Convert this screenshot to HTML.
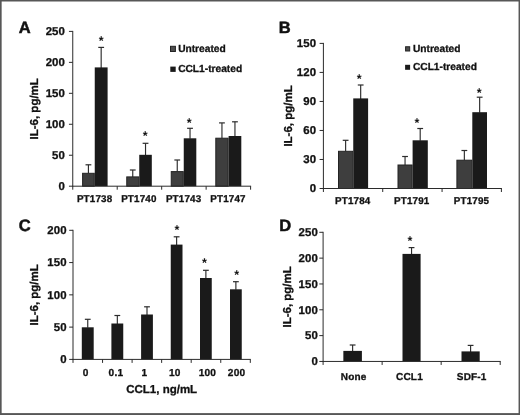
<!DOCTYPE html>
<html lang="en">
<head>
<meta charset="utf-8">
<title>IL-6 production figure</title>
<style>
html,body{margin:0;padding:0;background:#fff;}
body{width:520px;height:415px;overflow:hidden;position:relative;font-family:"Liberation Sans",Arial,Helvetica,sans-serif;}
svg{position:absolute;left:0;top:0;display:block;}
</style>
</head>
<body>
<svg width="520" height="415" viewBox="0 0 520 415" font-family="'Liberation Sans', Arial, Helvetica, sans-serif" font-weight="bold" fill="#111" stroke="none" text-rendering="geometricPrecision">
<line x1="88.42" y1="164.8" x2="88.42" y2="173.3" stroke="#2c2c2c" stroke-width="1.15"/>
<line x1="85.52" y1="164.8" x2="91.33" y2="164.8" stroke="#2c2c2c" stroke-width="1.2"/>
<rect x="82.6" y="173.3" width="11.65" height="12.9" fill="#3e3e3e" stroke="#232323" stroke-width="1"/>
<line x1="101.17" y1="47.4" x2="101.17" y2="67.9" stroke="#2c2c2c" stroke-width="1.15"/>
<line x1="98.27" y1="47.4" x2="104.08" y2="47.4" stroke="#2c2c2c" stroke-width="1.2"/>
<rect x="94.75" y="67.4" width="12.85" height="118.8" fill="#1a1a1a"/>
<line x1="132.75" y1="170" x2="132.75" y2="176.9" stroke="#2c2c2c" stroke-width="1.15"/>
<line x1="129.85" y1="170" x2="135.65" y2="170" stroke="#2c2c2c" stroke-width="1.2"/>
<rect x="126.75" y="176.9" width="12" height="9.3" fill="#3e3e3e" stroke="#232323" stroke-width="1"/>
<line x1="145.53" y1="143.3" x2="145.53" y2="155.3" stroke="#2c2c2c" stroke-width="1.15"/>
<line x1="142.62" y1="143.3" x2="148.43" y2="143.3" stroke="#2c2c2c" stroke-width="1.2"/>
<rect x="139.25" y="154.8" width="12.55" height="31.4" fill="#1a1a1a"/>
<line x1="177.25" y1="160" x2="177.25" y2="171.6" stroke="#2c2c2c" stroke-width="1.15"/>
<line x1="174.35" y1="160" x2="180.15" y2="160" stroke="#2c2c2c" stroke-width="1.2"/>
<rect x="171.25" y="171.6" width="12" height="14.6" fill="#3e3e3e" stroke="#232323" stroke-width="1"/>
<line x1="190.03" y1="128.3" x2="190.03" y2="138.8" stroke="#2c2c2c" stroke-width="1.15"/>
<line x1="187.12" y1="128.3" x2="192.93" y2="128.3" stroke="#2c2c2c" stroke-width="1.2"/>
<rect x="183.75" y="138.3" width="12.55" height="47.9" fill="#1a1a1a"/>
<line x1="221.95" y1="122.9" x2="221.95" y2="138.2" stroke="#2c2c2c" stroke-width="1.15"/>
<line x1="219.05" y1="122.9" x2="224.85" y2="122.9" stroke="#2c2c2c" stroke-width="1.2"/>
<rect x="215.8" y="138.2" width="12.3" height="48" fill="#3e3e3e" stroke="#232323" stroke-width="1"/>
<line x1="234.95" y1="121.8" x2="234.95" y2="136.5" stroke="#2c2c2c" stroke-width="1.15"/>
<line x1="232.05" y1="121.8" x2="237.85" y2="121.8" stroke="#2c2c2c" stroke-width="1.2"/>
<rect x="228.6" y="136" width="12.7" height="50.2" fill="#1a1a1a"/>
<line x1="72.75" y1="30.9" x2="72.75" y2="186.7" stroke="#2b2b2b" stroke-width="1.0"/>
<line x1="72.25" y1="186.2" x2="251.1" y2="186.2" stroke="#2b2b2b" stroke-width="1.0"/>
<line x1="68.95" y1="186.2" x2="72.75" y2="186.2" stroke="#2b2b2b" stroke-width="1.0"/>
<text x="58.61" y="189.95" font-size="11.4" letter-spacing="0.15" stroke="#111" stroke-width="0.3">0</text>
<line x1="68.95" y1="155.24" x2="72.75" y2="155.24" stroke="#2b2b2b" stroke-width="1.0"/>
<text x="52.12" y="158.99" font-size="11.4" letter-spacing="0.15" stroke="#111" stroke-width="0.3">50</text>
<line x1="68.95" y1="124.28" x2="72.75" y2="124.28" stroke="#2b2b2b" stroke-width="1.0"/>
<text x="45.63" y="128.03" font-size="11.4" letter-spacing="0.15" stroke="#111" stroke-width="0.3">100</text>
<line x1="68.95" y1="93.32" x2="72.75" y2="93.32" stroke="#2b2b2b" stroke-width="1.0"/>
<text x="45.63" y="97.07" font-size="11.4" letter-spacing="0.15" stroke="#111" stroke-width="0.3">150</text>
<line x1="68.95" y1="62.36" x2="72.75" y2="62.36" stroke="#2b2b2b" stroke-width="1.0"/>
<text x="45.63" y="66.11" font-size="11.4" letter-spacing="0.15" stroke="#111" stroke-width="0.3">200</text>
<line x1="68.95" y1="31.4" x2="72.75" y2="31.4" stroke="#2b2b2b" stroke-width="1.0"/>
<text x="45.63" y="35.15" font-size="11.4" letter-spacing="0.15" stroke="#111" stroke-width="0.3">250</text>
<line x1="72.75" y1="186.2" x2="72.75" y2="189.7" stroke="#2b2b2b" stroke-width="1.0"/>
<line x1="117.21" y1="186.2" x2="117.21" y2="189.7" stroke="#2b2b2b" stroke-width="1.0"/>
<line x1="161.68" y1="186.2" x2="161.68" y2="189.7" stroke="#2b2b2b" stroke-width="1.0"/>
<line x1="206.14" y1="186.2" x2="206.14" y2="189.7" stroke="#2b2b2b" stroke-width="1.0"/>
<line x1="250.6" y1="186.2" x2="250.6" y2="189.7" stroke="#2b2b2b" stroke-width="1.0"/>
<text x="76.89" y="201.9" font-size="9.8" letter-spacing="0.18" stroke="#111" stroke-width="0.3">PT1738</text>
<text x="121.14" y="201.9" font-size="9.8" letter-spacing="0.18" stroke="#111" stroke-width="0.3">PT1740</text>
<text x="165.89" y="201.9" font-size="9.8" letter-spacing="0.18" stroke="#111" stroke-width="0.3">PT1743</text>
<text x="210.29" y="201.9" font-size="9.8" letter-spacing="0.18" stroke="#111" stroke-width="0.3">PT1747</text>
<text x="37.8" y="139.46" font-size="11.5" stroke="#111" stroke-width="0.3" transform="rotate(-90 37.8 139.46)">IL-6, pg/mL</text>
<text x="18.75" y="33.4" font-size="16.5" stroke="#111" stroke-width="0.5">A</text>
<text x="98.85" y="45.13" font-size="12.6">*</text>
<text x="142.65" y="139.73" font-size="12.6">*</text>
<text x="186.75" y="126.93" font-size="12.6">*</text>
<rect x="170.5" y="46.3" width="4.9" height="5.2" fill="#4e4e4e" stroke="#232323" stroke-width="1"/>
<text x="178.15" y="52" font-size="10.2" stroke="#111" stroke-width="0.3">Untreated</text>
<rect x="170.3" y="66.6" width="5.4" height="5.3" fill="#1a1a1a"/>
<text x="178.15" y="72.4" font-size="10.2" stroke="#111" stroke-width="0.3">CCL1-treated</text>
<line x1="345.62" y1="140.3" x2="345.62" y2="151.3" stroke="#2c2c2c" stroke-width="1.15"/>
<line x1="342.73" y1="140.3" x2="348.52" y2="140.3" stroke="#2c2c2c" stroke-width="1.2"/>
<rect x="338.5" y="151.3" width="14.25" height="37.2" fill="#3e3e3e" stroke="#232323" stroke-width="1"/>
<line x1="360.68" y1="85" x2="360.68" y2="98.9" stroke="#2c2c2c" stroke-width="1.15"/>
<line x1="357.78" y1="85" x2="363.57" y2="85" stroke="#2c2c2c" stroke-width="1.2"/>
<rect x="353.25" y="98.4" width="14.85" height="90.1" fill="#1a1a1a"/>
<line x1="405.05" y1="156.5" x2="405.05" y2="165" stroke="#2c2c2c" stroke-width="1.15"/>
<line x1="402.15" y1="156.5" x2="407.95" y2="156.5" stroke="#2c2c2c" stroke-width="1.2"/>
<rect x="398" y="165" width="14.1" height="23.5" fill="#3e3e3e" stroke="#232323" stroke-width="1"/>
<line x1="420.2" y1="128.5" x2="420.2" y2="140.8" stroke="#2c2c2c" stroke-width="1.15"/>
<line x1="417.3" y1="128.5" x2="423.1" y2="128.5" stroke="#2c2c2c" stroke-width="1.2"/>
<rect x="412.6" y="140.3" width="15.2" height="48.2" fill="#1a1a1a"/>
<line x1="464.35" y1="150.5" x2="464.35" y2="160.2" stroke="#2c2c2c" stroke-width="1.15"/>
<line x1="461.45" y1="150.5" x2="467.25" y2="150.5" stroke="#2c2c2c" stroke-width="1.2"/>
<rect x="456.9" y="160.2" width="14.9" height="28.3" fill="#3e3e3e" stroke="#232323" stroke-width="1"/>
<line x1="479.65" y1="97.2" x2="479.65" y2="112.7" stroke="#2c2c2c" stroke-width="1.15"/>
<line x1="476.75" y1="97.2" x2="482.55" y2="97.2" stroke="#2c2c2c" stroke-width="1.2"/>
<rect x="472.3" y="112.2" width="14.7" height="76.3" fill="#1a1a1a"/>
<line x1="323.4" y1="42.9" x2="323.4" y2="189" stroke="#2b2b2b" stroke-width="1.0"/>
<line x1="322.9" y1="188.5" x2="501.9" y2="188.5" stroke="#2b2b2b" stroke-width="1.0"/>
<line x1="319.6" y1="188.5" x2="323.4" y2="188.5" stroke="#2b2b2b" stroke-width="1.0"/>
<text x="309.71" y="192.25" font-size="11.4" letter-spacing="0.15" stroke="#111" stroke-width="0.3">0</text>
<line x1="319.6" y1="159.48" x2="323.4" y2="159.48" stroke="#2b2b2b" stroke-width="1.0"/>
<text x="303.22" y="163.23" font-size="11.4" letter-spacing="0.15" stroke="#111" stroke-width="0.3">30</text>
<line x1="319.6" y1="130.46" x2="323.4" y2="130.46" stroke="#2b2b2b" stroke-width="1.0"/>
<text x="303.22" y="134.21" font-size="11.4" letter-spacing="0.15" stroke="#111" stroke-width="0.3">60</text>
<line x1="319.6" y1="101.44" x2="323.4" y2="101.44" stroke="#2b2b2b" stroke-width="1.0"/>
<text x="303.22" y="105.19" font-size="11.4" letter-spacing="0.15" stroke="#111" stroke-width="0.3">90</text>
<line x1="319.6" y1="72.42" x2="323.4" y2="72.42" stroke="#2b2b2b" stroke-width="1.0"/>
<text x="296.73" y="76.17" font-size="11.4" letter-spacing="0.15" stroke="#111" stroke-width="0.3">120</text>
<line x1="319.6" y1="43.4" x2="323.4" y2="43.4" stroke="#2b2b2b" stroke-width="1.0"/>
<text x="296.73" y="47.15" font-size="11.4" letter-spacing="0.15" stroke="#111" stroke-width="0.3">150</text>
<line x1="323.4" y1="188.5" x2="323.4" y2="192" stroke="#2b2b2b" stroke-width="1.0"/>
<line x1="382.73" y1="188.5" x2="382.73" y2="192" stroke="#2b2b2b" stroke-width="1.0"/>
<line x1="442.07" y1="188.5" x2="442.07" y2="192" stroke="#2b2b2b" stroke-width="1.0"/>
<line x1="501.4" y1="188.5" x2="501.4" y2="192" stroke="#2b2b2b" stroke-width="1.0"/>
<text x="335.09" y="204.3" font-size="9.8" letter-spacing="0.18" stroke="#111" stroke-width="0.3">PT1784</text>
<text x="394.09" y="204.3" font-size="9.8" letter-spacing="0.18" stroke="#111" stroke-width="0.3">PT1791</text>
<text x="453.79" y="204.3" font-size="9.8" letter-spacing="0.18" stroke="#111" stroke-width="0.3">PT1795</text>
<text x="291.6" y="146.61" font-size="11.5" stroke="#111" stroke-width="0.3" transform="rotate(-90 291.6 146.61)">IL-6, pg/mL</text>
<text x="278.65" y="32.8" font-size="16.5" stroke="#111" stroke-width="0.5">B</text>
<text x="356.75" y="82.73" font-size="12.6">*</text>
<text x="414.45" y="127.03" font-size="12.6">*</text>
<text x="476.85" y="97.23" font-size="12.6">*</text>
<rect x="405.6" y="46.75" width="4.1" height="4.25" fill="#4e4e4e" stroke="#232323" stroke-width="1"/>
<text x="412.95" y="52" font-size="10.2" stroke="#111" stroke-width="0.3">Untreated</text>
<rect x="405.1" y="64.8" width="5" height="5" fill="#1a1a1a"/>
<text x="412.95" y="70.15" font-size="10.2" stroke="#111" stroke-width="0.3">CCL1-treated</text>
<line x1="87.75" y1="319.3" x2="87.75" y2="327.8" stroke="#2c2c2c" stroke-width="1.15"/>
<line x1="84.85" y1="319.3" x2="90.65" y2="319.3" stroke="#2c2c2c" stroke-width="1.2"/>
<rect x="81.8" y="327.3" width="11.9" height="32.1" fill="#1a1a1a"/>
<line x1="117.33" y1="315.5" x2="117.33" y2="324" stroke="#2c2c2c" stroke-width="1.15"/>
<line x1="114.42" y1="315.5" x2="120.23" y2="315.5" stroke="#2c2c2c" stroke-width="1.2"/>
<rect x="111.4" y="323.5" width="11.85" height="35.9" fill="#1a1a1a"/>
<line x1="147" y1="306.8" x2="147" y2="315" stroke="#2c2c2c" stroke-width="1.15"/>
<line x1="144.1" y1="306.8" x2="149.9" y2="306.8" stroke="#2c2c2c" stroke-width="1.2"/>
<rect x="141.1" y="314.5" width="11.8" height="44.9" fill="#1a1a1a"/>
<line x1="176.62" y1="236.8" x2="176.62" y2="245.1" stroke="#2c2c2c" stroke-width="1.15"/>
<line x1="173.72" y1="236.8" x2="179.53" y2="236.8" stroke="#2c2c2c" stroke-width="1.2"/>
<rect x="170.75" y="244.6" width="11.75" height="114.8" fill="#1a1a1a"/>
<line x1="205.88" y1="270.3" x2="205.88" y2="278.5" stroke="#2c2c2c" stroke-width="1.15"/>
<line x1="202.97" y1="270.3" x2="208.78" y2="270.3" stroke="#2c2c2c" stroke-width="1.2"/>
<rect x="200" y="278" width="11.75" height="81.4" fill="#1a1a1a"/>
<line x1="235.88" y1="281.7" x2="235.88" y2="289.8" stroke="#2c2c2c" stroke-width="1.15"/>
<line x1="232.97" y1="281.7" x2="238.78" y2="281.7" stroke="#2c2c2c" stroke-width="1.2"/>
<rect x="230" y="289.3" width="11.75" height="70.1" fill="#1a1a1a"/>
<line x1="73" y1="229.8" x2="73" y2="359.9" stroke="#2b2b2b" stroke-width="1.0"/>
<line x1="72.5" y1="359.4" x2="250.8" y2="359.4" stroke="#2b2b2b" stroke-width="1.0"/>
<line x1="69.2" y1="359.4" x2="73" y2="359.4" stroke="#2b2b2b" stroke-width="1.0"/>
<text x="60.21" y="363.15" font-size="11.4" letter-spacing="0.15" stroke="#111" stroke-width="0.3">0</text>
<line x1="69.2" y1="327.12" x2="73" y2="327.12" stroke="#2b2b2b" stroke-width="1.0"/>
<text x="53.72" y="330.88" font-size="11.4" letter-spacing="0.15" stroke="#111" stroke-width="0.3">50</text>
<line x1="69.2" y1="294.85" x2="73" y2="294.85" stroke="#2b2b2b" stroke-width="1.0"/>
<text x="47.23" y="298.6" font-size="11.4" letter-spacing="0.15" stroke="#111" stroke-width="0.3">100</text>
<line x1="69.2" y1="262.57" x2="73" y2="262.57" stroke="#2b2b2b" stroke-width="1.0"/>
<text x="47.23" y="266.32" font-size="11.4" letter-spacing="0.15" stroke="#111" stroke-width="0.3">150</text>
<line x1="69.2" y1="230.3" x2="73" y2="230.3" stroke="#2b2b2b" stroke-width="1.0"/>
<text x="47.23" y="234.05" font-size="11.4" letter-spacing="0.15" stroke="#111" stroke-width="0.3">200</text>
<line x1="73" y1="359.4" x2="73" y2="362.9" stroke="#2b2b2b" stroke-width="1.0"/>
<line x1="102.55" y1="359.4" x2="102.55" y2="362.9" stroke="#2b2b2b" stroke-width="1.0"/>
<line x1="132.1" y1="359.4" x2="132.1" y2="362.9" stroke="#2b2b2b" stroke-width="1.0"/>
<line x1="161.65" y1="359.4" x2="161.65" y2="362.9" stroke="#2b2b2b" stroke-width="1.0"/>
<line x1="191.2" y1="359.4" x2="191.2" y2="362.9" stroke="#2b2b2b" stroke-width="1.0"/>
<line x1="220.75" y1="359.4" x2="220.75" y2="362.9" stroke="#2b2b2b" stroke-width="1.0"/>
<line x1="250.3" y1="359.4" x2="250.3" y2="362.9" stroke="#2b2b2b" stroke-width="1.0"/>
<text x="82.79" y="375.5" font-size="10.1" letter-spacing="0.2" stroke="#111" stroke-width="0.3">0</text>
<text x="108.58" y="375.5" font-size="10.1" letter-spacing="0.2" stroke="#111" stroke-width="0.3">0.1</text>
<text x="141.39" y="375.5" font-size="10.1" letter-spacing="0.2" stroke="#111" stroke-width="0.3">1</text>
<text x="168.98" y="375.5" font-size="10.1" letter-spacing="0.2" stroke="#111" stroke-width="0.3">10</text>
<text x="198.68" y="375.5" font-size="10.1" letter-spacing="0.2" stroke="#111" stroke-width="0.3">100</text>
<text x="227.83" y="375.5" font-size="10.1" letter-spacing="0.2" stroke="#111" stroke-width="0.3">200</text>
<text x="38" y="325.51" font-size="11.5" stroke="#111" stroke-width="0.3" transform="rotate(-90 38 325.51)">IL-6, pg/mL</text>
<text x="18.85" y="230.8" font-size="16.5" stroke="#111" stroke-width="0.5">C</text>
<text x="174.45" y="234.13" font-size="12.6">*</text>
<text x="201.95" y="267.43" font-size="12.6">*</text>
<text x="234.15" y="278.53" font-size="12.6">*</text>
<text x="126.24" y="392.9" font-size="11.5" stroke="#111" stroke-width="0.3">CCL1, ng/mL</text>
<line x1="352.62" y1="345" x2="352.62" y2="351.4" stroke="#2c2c2c" stroke-width="1.15"/>
<line x1="349.73" y1="345" x2="355.52" y2="345" stroke="#2c2c2c" stroke-width="1.2"/>
<rect x="343.35" y="350.9" width="18.55" height="10.55" fill="#1a1a1a"/>
<line x1="411.55" y1="247.6" x2="411.55" y2="254.4" stroke="#2c2c2c" stroke-width="1.15"/>
<line x1="408.65" y1="247.6" x2="414.45" y2="247.6" stroke="#2c2c2c" stroke-width="1.2"/>
<rect x="402.5" y="253.9" width="18.1" height="107.55" fill="#1a1a1a"/>
<line x1="470.6" y1="345.4" x2="470.6" y2="351.9" stroke="#2c2c2c" stroke-width="1.15"/>
<line x1="467.7" y1="345.4" x2="473.5" y2="345.4" stroke="#2c2c2c" stroke-width="1.2"/>
<rect x="461.5" y="351.4" width="18.2" height="10.05" fill="#1a1a1a"/>
<line x1="323.1" y1="231.8" x2="323.1" y2="361.95" stroke="#2b2b2b" stroke-width="1.0"/>
<line x1="322.6" y1="361.45" x2="500.7" y2="361.45" stroke="#2b2b2b" stroke-width="1.0"/>
<line x1="319.3" y1="361.45" x2="323.1" y2="361.45" stroke="#2b2b2b" stroke-width="1.0"/>
<text x="311.51" y="365.2" font-size="11.4" letter-spacing="0.15" stroke="#111" stroke-width="0.3">0</text>
<line x1="319.3" y1="335.62" x2="323.1" y2="335.62" stroke="#2b2b2b" stroke-width="1.0"/>
<text x="305.02" y="339.37" font-size="11.4" letter-spacing="0.15" stroke="#111" stroke-width="0.3">50</text>
<line x1="319.3" y1="309.79" x2="323.1" y2="309.79" stroke="#2b2b2b" stroke-width="1.0"/>
<text x="298.53" y="313.54" font-size="11.4" letter-spacing="0.15" stroke="#111" stroke-width="0.3">100</text>
<line x1="319.3" y1="283.96" x2="323.1" y2="283.96" stroke="#2b2b2b" stroke-width="1.0"/>
<text x="298.53" y="287.71" font-size="11.4" letter-spacing="0.15" stroke="#111" stroke-width="0.3">150</text>
<line x1="319.3" y1="258.13" x2="323.1" y2="258.13" stroke="#2b2b2b" stroke-width="1.0"/>
<text x="298.53" y="261.88" font-size="11.4" letter-spacing="0.15" stroke="#111" stroke-width="0.3">200</text>
<line x1="319.3" y1="232.3" x2="323.1" y2="232.3" stroke="#2b2b2b" stroke-width="1.0"/>
<text x="298.53" y="236.05" font-size="11.4" letter-spacing="0.15" stroke="#111" stroke-width="0.3">250</text>
<line x1="323.1" y1="361.45" x2="323.1" y2="364.95" stroke="#2b2b2b" stroke-width="1.0"/>
<line x1="382.13" y1="361.45" x2="382.13" y2="364.95" stroke="#2b2b2b" stroke-width="1.0"/>
<line x1="441.17" y1="361.45" x2="441.17" y2="364.95" stroke="#2b2b2b" stroke-width="1.0"/>
<line x1="500.2" y1="361.45" x2="500.2" y2="364.95" stroke="#2b2b2b" stroke-width="1.0"/>
<text x="340.83" y="379.5" font-size="10" letter-spacing="0.18" stroke="#111" stroke-width="0.3">None</text>
<text x="396.07" y="379.5" font-size="10" letter-spacing="0.18" stroke="#111" stroke-width="0.3">CCL1</text>
<text x="456.8" y="379.5" font-size="10" letter-spacing="0.18" stroke="#111" stroke-width="0.3">SDF-1</text>
<text x="291.4" y="327.54" font-size="11.5" stroke="#111" stroke-width="0.3" transform="rotate(-90 291.4 327.54)">IL-6, pg/mL</text>
<text x="279.15" y="231.4" font-size="16.5" stroke="#111" stroke-width="0.5">D</text>
<text x="407.55" y="245.13" font-size="12.6">*</text>
<rect x="0" y="0" width="520" height="1.5" fill="#575757"/>
<rect x="0" y="413.1" width="520" height="1.9" fill="#575757"/>
<rect x="0" y="0" width="1.65" height="415" fill="#575757"/>
<rect x="518.55" y="0" width="1.45" height="415" fill="#575757"/>
</svg>
</body>
</html>
